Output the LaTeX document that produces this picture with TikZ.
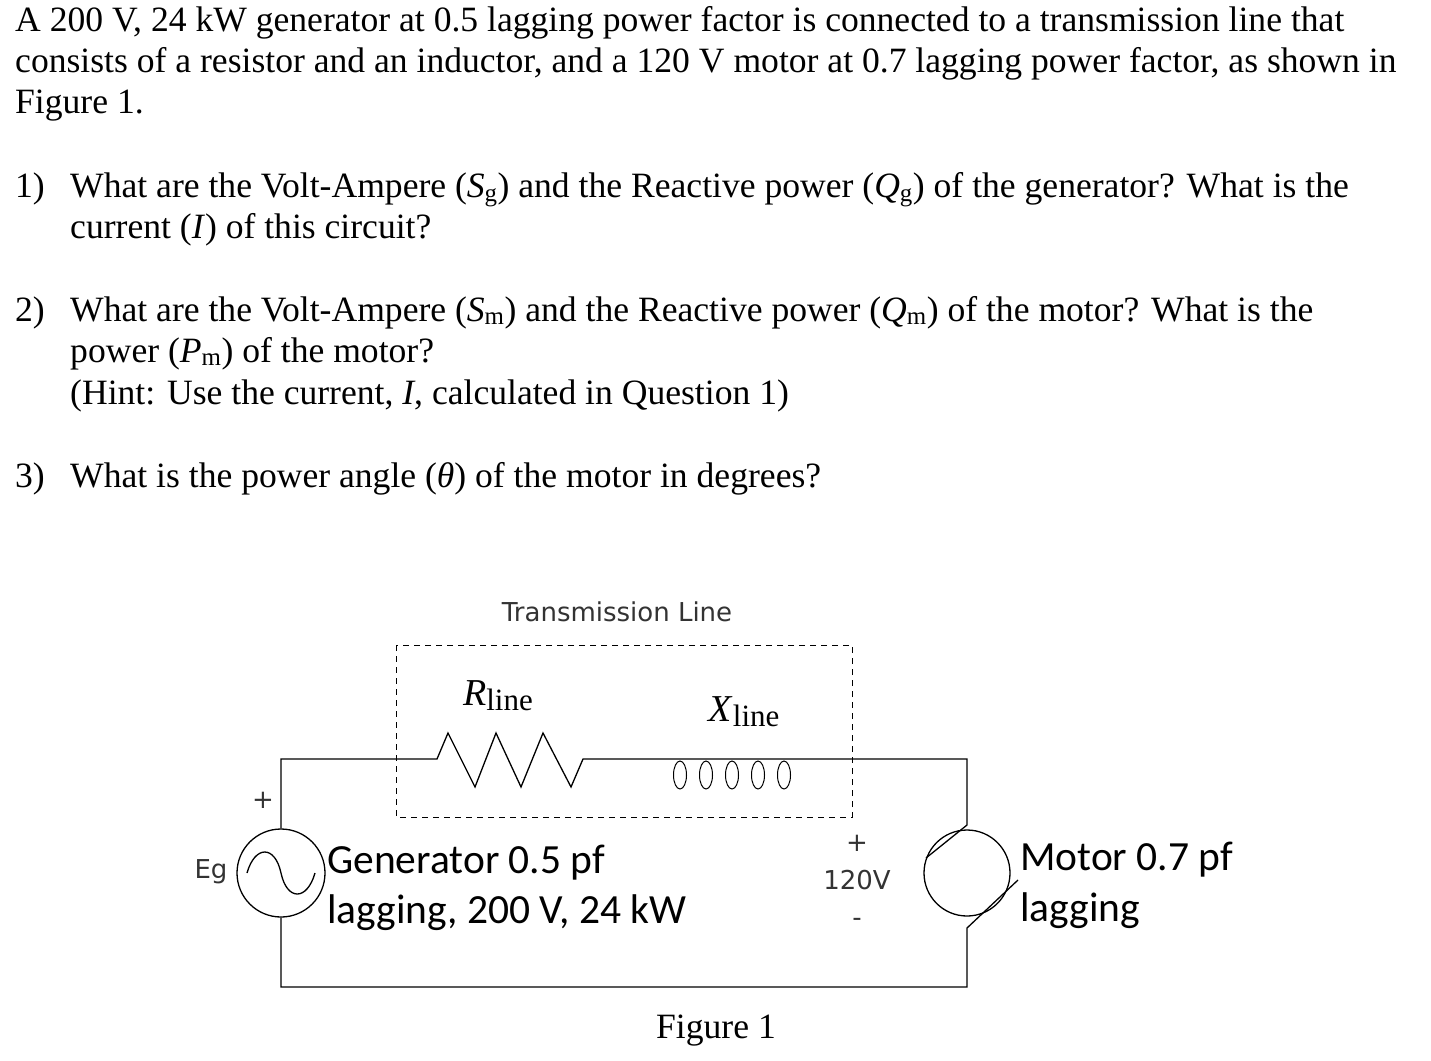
\documentclass[tikz,border=0pt]{standalone}
\usepackage{fontspec}
\setmainfont{Liberation Serif}
\newfontfamily\calfnt{Carlito}
\newfontfamily\dvfnt{DejaVu Sans}
\begin{document}
\begin{tikzpicture}[x=1pt,y=-1pt,
 q/.style={anchor=base west,inner sep=0,font=\fontsize{35.6}{40}\selectfont},
 w/.style={line width=1.3pt},
 lab/.style={inner sep=0,font=\calfnt\fontsize{41.5}{44}\selectfont,anchor=base west},
 sm/.style={inner sep=0,font=\dvfnt\fontsize{26}{30}\selectfont,text=black!80}]
\useasboundingbox (0,0) rectangle (1431,1060);
\node[q] (t1) at (15,31) {A 200 V, 24 kW generator at 0.5 lagging power factor is connected to a transmission line that};
\node[q] (t2) at (15,72) {consists of a resistor and an inductor, and a 120 V motor at 0.7 lagging power factor, as shown in};
\node[q] (t3) at (15,113) {Figure 1.};
\node[q] (n1) at (15,197) {1)};
\node[q] (a1) at (70,197) {What are the Volt-Ampere (\textit{S}\textsubscript{g}) and the Reactive power (\textit{Q}\textsubscript{g}) of the generator? What is the};
\node[q] (a2) at (70,238) {current (\textit{I}) of this circuit?};
\node[q] (n2) at (15,321) {2)};
\node[q] (b1) at (70,321) {What are the Volt-Ampere (\textit{S}\textsubscript{m}) and the Reactive power (\textit{Q}\textsubscript{m}) of the motor? What is the};
\node[q] (b2) at (70,362) {power (\textit{P}\textsubscript{m}) of the motor?};
\node[q] (b3) at (70,404) {(Hint: Use the current, \textit{I}, calculated in Question 1)};
\node[q] (n3) at (15,487) {3)};
\node[q] (c1) at (70,487) {What is the power angle (\textit{θ}) of the motor in degrees?};
% circuit
\node[sm] (tl) at (617,612) {Transmission Line};
\draw[w,dash pattern=on 6pt off 5pt,line width=1pt] (396,645) rectangle (852,817);
\node[inner sep=0,font=\fontsize{38}{40}\selectfont] (rl) at (498,696) {\textit{R}\raisebox{-5pt}{\fontsize{31}{34}\selectfont line}};
\node[inner sep=0,font=\fontsize{38}{40}\selectfont] (xl) at (744,712) {\textit{X}\raisebox{-5pt}{\fontsize{31}{34}\selectfont line}};
\node[circle,draw,w,minimum size=88pt,inner sep=0] (G) at (281,873) {};
\node[circle,draw,w,minimum size=86pt,inner sep=0] (M) at (967,873) {};
\coordinate (tlc) at (281,759); \coordinate (trc) at (967,759);
\coordinate (blc) at (281,987); \coordinate (brc) at (967,987);
\draw[w] (G.north) -- (tlc) -- (437,759) -- (448,733) -- (475,787) -- (496,733) -- (521,787) -- (543,733) -- (571,787) -- (583,759) -- (trc) -- (967,825) -- (926,858);
\draw[w] (G.south) -- (blc) -- (brc) -- (967,928) -- (1018,880);
\foreach \x in {680,706,732,758,784} \draw[line width=1pt] (\x,775) ellipse (6.5pt and 14pt);
\draw[w] (247,873) .. controls (255,845) and (275,845) .. (281,873) .. controls (287,901) and (307,901) .. (315,873);
\node[sm] (pg) at (263,800) {+};
\node[sm] (eg) at (211,872) {Eg};
\node[lab] (gl1) at (327,873) {Generator 0.5 pf};
\node[lab] (gl2) at (327,923) {lagging, 200 V, 24 kW};
\node[sm] (pm) at (857,843) {+};
\node[sm] (vm) at (857,880) {120V};
\node[sm] (mm) at (857,922) {-};
\node[lab] (ml1) at (1020,870) {Motor 0.7 pf};
\node[lab] (ml2) at (1020,921) {lagging};
\node[inner sep=0,font=\fontsize{35.6}{40}\selectfont] (fig) at (716,1031) {Figure 1};
\end{tikzpicture}
\end{document}
